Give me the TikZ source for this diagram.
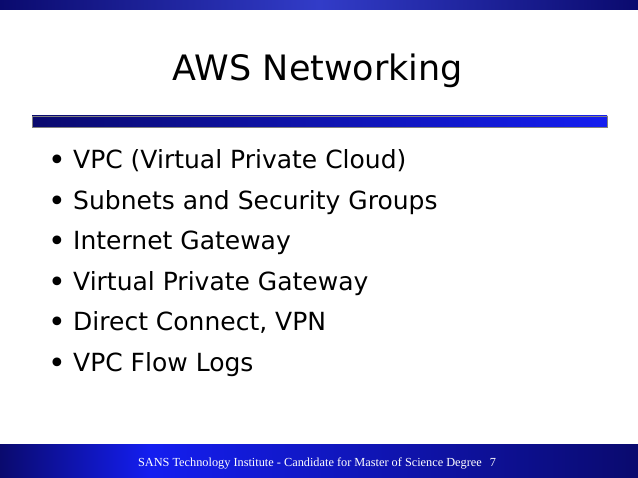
\documentclass[tikz,border=0pt]{standalone}
\usepackage{fontspec}
\setmainfont{DejaVu Sans}
\newfontfamily\footfont{Liberation Serif}
\definecolor{navy}{RGB}{10,10,110}
\definecolor{brightblue}{RGB}{20,30,240}
\definecolor{midblue}{RGB}{50,60,200}
\tikzset{bul/.style={anchor=base west,font=\fontsize{25}{30}\selectfont,inner sep=0},
  dot/.style={anchor=base west,font=\fontsize{30}{36}\selectfont,inner sep=0}}
\begin{document}
\begin{tikzpicture}[x=1pt,y=-1pt]
\useasboundingbox (0,0) rectangle (638,478);
\fill[white] (0,0) rectangle (638,478);
% top bar
\shade[left color=navy,right color=midblue] (0,0) rectangle (319,10);
\shade[left color=midblue,right color=navy] (319,0) rectangle (638,10);
% title rule
\shade[left color=navy,right color=brightblue,draw=gray] (32,116) rectangle (607,127);
% footer
\shade[left color=navy,right color=brightblue] (0,445) rectangle (150,478);
\shade[left color=brightblue,right color=navy] (150,445) rectangle (638,478);
\node[anchor=base,font=\fontsize{35}{40}\selectfont,inner sep=0] (title) at (318,81) {AWS Networking};
\foreach \t [count=\i] in {VPC (Virtual Private Cloud),Subnets and Security Groups,Internet Gateway,Virtual Private Gateway,Direct Connect{,} VPN,VPC Flow Logs}{
  \node[bul] (b\i) at (73,{169+40.5*(\i-1)}) {\t};
  \node[dot] (d\i) at (48,{171+40.5*(\i-1)}) {•};
}
\node[anchor=base,text=white,font=\footfont\fontsize{12.3}{14}\selectfont,inner sep=0] (foot) at (317,467) {SANS Technology Institute - Candidate for Master of Science Degree\hspace{8pt}7};
\end{tikzpicture}
\end{document}
